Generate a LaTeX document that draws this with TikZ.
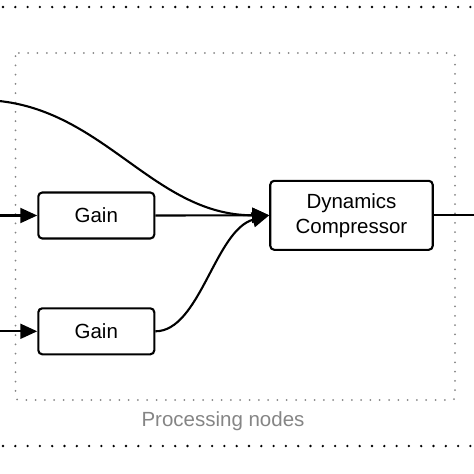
\documentclass[tikz,border=0pt]{standalone}
\usepackage{fontspec}
\setmainfont{Liberation Sans}
\usetikzlibrary{arrows.meta}
\definecolor{grpgray}{HTML}{858585}
\tikzset{
  procbox/.style={draw=black, line width=2.1pt, rounded corners=4pt, inner sep=0pt, fill=white,
    font=\fontsize{20.5}{25}\selectfont, align=center},
  conn/.style={line width=2.1pt, -{Triangle[length=17pt,width=15pt]}},
  plainconn/.style={line width=2.1pt},
  blackdots/.style={line width=2.6pt, dash pattern=on 0pt off 12.3pt, line cap=round},
  graydots/.style={draw=grpgray, line width=2pt, dash pattern=on 0pt off 9.3pt, line cap=round}
}
\begin{document}
\begin{tikzpicture}[x=1pt,y=-1pt]
\useasboundingbox (0,0) rectangle (474,474);
% outer dotted separators
\coordinate (topL) at (3,7);
\coordinate (topR) at (474,7);
\coordinate (botL) at (3,446);
\coordinate (botR) at (474,446);
\draw[blackdots] (topL) -- (topR);
\draw[blackdots] (botL) -- (botR);
% processing group
\coordinate (grpA) at (15.5,53);
\coordinate (grpB) at (455,400);
\draw[graydots, rounded corners=3pt] (grpA) rectangle (grpB);
\node[text=grpgray, font=\fontsize{20.5}{24}\selectfont] (grplabel) at (223,421) {Processing nodes};
% nodes
\node[procbox, minimum width=116pt, minimum height=46pt] (gain1) at (96.3,215.5) {Gain};
\node[procbox, minimum width=116pt, minimum height=46pt] (gain2) at (96.3,331.3) {Gain};
\node[procbox, minimum width=162.5pt, minimum height=69pt] (comp) at (351.5,215.3) {Dynamics\\Compressor};
% free ends
\coordinate (in0) at (-20,100);
\coordinate (in1) at (-5,215.5);
\coordinate (in2) at (-5,331.3);
\coordinate (out) at (480,215.3);
% connectors
\draw[conn] (in1) -- (gain1.west);
\draw[conn] (in2) -- (gain2.west);
\draw[conn] (in0) .. controls (100,100) and (150,215.3) .. (comp.west);
\draw[conn] (gain1.east) -- (comp.west);
\draw[conn] (gain2.east) .. controls (200,331.3) and (215,230) .. (comp.west);
\draw[plainconn] (comp.east) -- (out);
\end{tikzpicture}
\end{document}
